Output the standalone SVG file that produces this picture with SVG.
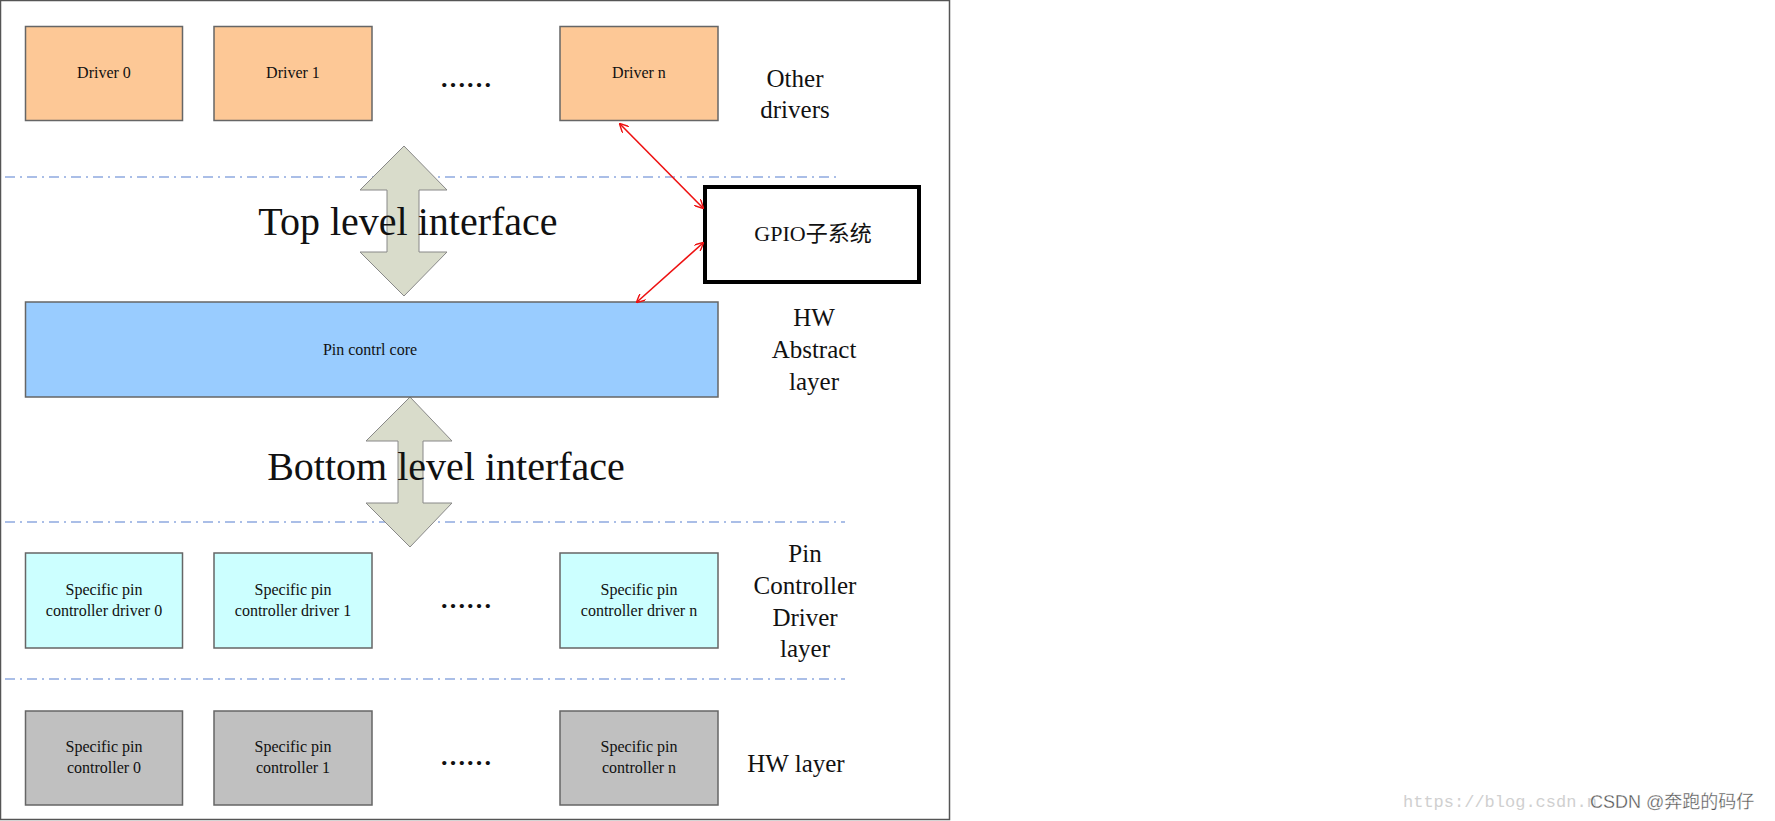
<svg xmlns="http://www.w3.org/2000/svg" width="1775" height="821" viewBox="0 0 1775 821">
<style>
.t{font-family:"Liberation Serif","Noto Sans CJK SC",serif;fill:#111}
.box{stroke:#666;stroke-width:1.5}
.dl{stroke:#8fa9e0;stroke-width:1.5;stroke-dasharray:10 5 2 5}
.arr{fill:#d9dccb;stroke:#888;stroke-width:1}
.red{stroke:#ee1111;stroke-width:1.6;fill:none;marker-start:url(#rh);marker-end:url(#rh)}
</style>
<defs>
<marker id="rh" viewBox="0 0 10 10" refX="9" refY="5" markerWidth="9" markerHeight="9" orient="auto-start-reverse" markerUnits="userSpaceOnUse"><path d="M0,0 L10,5 L0,10" fill="none" stroke="#ee1111" stroke-width="1.6"/></marker>
</defs>
<rect width="1775" height="821" fill="#fff"/>
<rect x="0.5" y="0.5" width="949" height="819" fill="none" stroke="#555" stroke-width="1.5"/>
<g id="guides">
<line class="dl" x1="5" y1="177" x2="840" y2="177"/>
<line class="dl" x1="5" y1="522" x2="845" y2="522"/>
<line class="dl" x1="5" y1="679" x2="845" y2="679"/>
</g>
<g id="interfaces">
<path class="arr" d="M404,146 L447,190 L419,190 L419,252 L447,252 L404,296 L360,252 L387,252 L387,190 L360,190 Z"/>
<path class="arr" d="M410,397 L452,441 L423,441 L423,503 L452,503 L410,547 L366,503 L398,503 L398,441 L366,441 Z"/>
<text class="t" x="408" y="235" font-size="40" text-anchor="middle">Top level interface</text>
<text class="t" x="446" y="480" font-size="40" text-anchor="middle">Bottom level interface</text>
</g>
<g id="drivers" font-size="16">
<rect class="box" x="25.5" y="26.5" width="157" height="94" fill="#fdc896"/>
<rect class="box" x="214" y="26.5" width="158" height="94" fill="#fdc896"/>
<rect class="box" x="560" y="26.5" width="158" height="94" fill="#fdc896"/>
<text class="t" x="104" y="78" text-anchor="middle" font-size="16">Driver 0</text>
<text class="t" x="293" y="78" text-anchor="middle" font-size="16">Driver 1</text>
<text class="t" x="639" y="78" text-anchor="middle" font-size="16">Driver n</text>
<text class="t" x="466" y="87" text-anchor="middle" font-size="26" font-weight="bold">……</text>
<text class="t" x="795" y="87" text-anchor="middle" font-size="25">Other</text>
<text class="t" x="795" y="118" text-anchor="middle" font-size="25">drivers</text>
</g>
<g id="gpio">
<rect x="705" y="187" width="214" height="95" fill="#fff" stroke="#000" stroke-width="4"/>
<text class="t" x="813" y="241" text-anchor="middle" font-size="22">GPIO子系统</text>
</g>
<g id="core">
<rect class="box" x="25.5" y="302" width="692.5" height="95" fill="#99ccff"/>
<text class="t" x="370" y="355" text-anchor="middle" font-size="16">Pin contrl core</text>
<text class="t" x="814" y="326" text-anchor="middle" font-size="25">HW</text>
<text class="t" x="814" y="358" text-anchor="middle" font-size="25">Abstract</text>
<text class="t" x="814" y="390" text-anchor="middle" font-size="25">layer</text>
</g>
<g id="connectors">
<line class="red" x1="620" y1="124" x2="703" y2="208"/>
<line class="red" x1="703" y1="243" x2="637" y2="302"/>
</g>
<g id="pcdrivers">
<rect class="box" x="25.5" y="553" width="157" height="95" fill="#ccffff"/>
<rect class="box" x="214" y="553" width="158" height="95" fill="#ccffff"/>
<rect class="box" x="560" y="553" width="158" height="95" fill="#ccffff"/>
<g class="t" font-size="16" text-anchor="middle">
<text class="t" x="104" y="595">Specific pin</text><text class="t" x="104" y="616">controller driver 0</text>
<text class="t" x="293" y="595">Specific pin</text><text class="t" x="293" y="616">controller driver 1</text>
<text class="t" x="639" y="595">Specific pin</text><text class="t" x="639" y="616">controller driver n</text>
</g>
<text class="t" x="466" y="608" text-anchor="middle" font-size="26" font-weight="bold">……</text>
<g class="t" font-size="25" text-anchor="middle">
<text class="t" x="805" y="562">Pin</text><text class="t" x="805" y="594">Controller</text><text class="t" x="805" y="626">Driver</text><text class="t" x="805" y="657">layer</text>
</g>
</g>
<g id="hw">
<rect class="box" x="25.5" y="711" width="157" height="94" fill="#c0c0c0"/>
<rect class="box" x="214" y="711" width="158" height="94" fill="#c0c0c0"/>
<rect class="box" x="560" y="711" width="158" height="94" fill="#c0c0c0"/>
<g class="t" font-size="16" text-anchor="middle">
<text class="t" x="104" y="752">Specific pin</text><text class="t" x="104" y="773">controller 0</text>
<text class="t" x="293" y="752">Specific pin</text><text class="t" x="293" y="773">controller 1</text>
<text class="t" x="639" y="752">Specific pin</text><text class="t" x="639" y="773">controller n</text>
</g>
<text class="t" x="466" y="765" text-anchor="middle" font-size="26" font-weight="bold">……</text>
<text class="t" x="796" y="772" text-anchor="middle" font-size="25">HW layer</text>
</g>
<g id="watermark">
<text x="1403" y="807" font-family="Liberation Mono,monospace" font-size="17" fill="#d0d0d0">https://blog.csdn.n</text>
<text x="1590" y="808" font-family="Liberation Sans,'Noto Sans CJK SC',sans-serif" font-size="18" fill="#555" stroke="#fff" stroke-width="0.3">CSDN @奔跑的码仔</text>
</g>
</svg>
